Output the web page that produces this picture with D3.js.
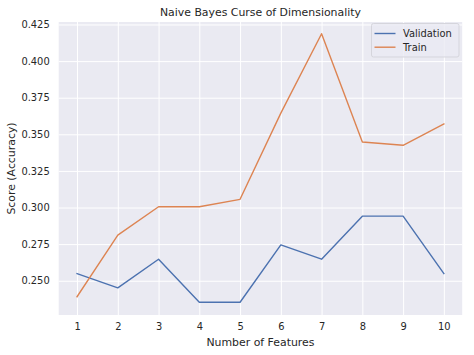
<!DOCTYPE html>
<html>
<head>
<meta charset="utf-8">
<script src="https://cdn.jsdelivr.net/npm/d3@7"></script>
<style>
  html, body { margin: 0; padding: 0; background: #ffffff; }
  svg { display: block; }
  text { font-family: "DejaVu Sans", sans-serif; fill: #262626; }
</style>
</head>
<body>
<div id="chart"></div>
<script>
const features = [1, 2, 3, 4, 5, 6, 7, 8, 9, 10];
const validation = [0.2549, 0.2451, 0.2647, 0.2353, 0.2353, 0.2745, 0.2647, 0.2941, 0.2941, 0.2549];
const train = [0.2391, 0.2812, 0.3005, 0.3005, 0.3056, 0.3645, 0.4187, 0.3447, 0.3425, 0.3570];
const yTicks = [0.250, 0.275, 0.300, 0.325, 0.350, 0.375, 0.400, 0.425];
const seriesNames = ["Validation", "Train"];
const seriesColors = ["#4C72B0", "#DD8452"];

const W = 474, H = 355;
const plot = { left: 58.7, right: 462.2, top: 22, bottom: 315 };

const svg = d3.select("#chart").append("svg")
  .attr("width", W).attr("height", H);

const x = d3.scaleLinear().domain([0.55, 10.45]).range([plot.left, plot.right]);
const y = d3.scaleLinear().domain([0.2266, 0.4267]).range([plot.bottom, plot.top]);

// background
svg.append("rect")
  .attr("x", plot.left).attr("y", plot.top)
  .attr("width", plot.right - plot.left).attr("height", plot.bottom - plot.top)
  .attr("fill", "#EAEAF2");

// grid
const xAxis = d3.axisBottom(x).tickValues(features).tickFormat(d3.format("d"))
  .tickSize(-(plot.bottom - plot.top)).tickPadding(8);
const yAxis = d3.axisLeft(y).tickValues(yTicks).tickFormat(d3.format(".3f"))
  .tickSize(-(plot.right - plot.left)).tickPadding(9);

const gx = svg.append("g").attr("transform", `translate(0,${plot.bottom})`).call(xAxis);
const gy = svg.append("g").attr("transform", `translate(${plot.left},0)`).call(yAxis);
[gx, gy].forEach(g => {
  g.select(".domain").remove();
  g.selectAll(".tick line").attr("stroke", "#ffffff").attr("stroke-width", 1);
  g.selectAll(".tick text").attr("font-size", "9.9px").attr("fill", "#262626")
    .style("font-family", "DejaVu Sans, sans-serif");
});

// lines
const seriesData = [validation, train];
seriesData.forEach((vals, i) => {
  const line = d3.line().x((d, j) => x(features[j])).y(d => y(d));
  svg.append("path")
    .datum(vals)
    .attr("d", line)
    .attr("fill", "none")
    .attr("stroke", seriesColors[i])
    .attr("stroke-width", 1.4)
    .attr("stroke-linejoin", "round")
    .attr("stroke-linecap", "square");
});

// title
svg.append("text")
  .attr("x", (plot.left + plot.right) / 2).attr("y", 16)
  .attr("text-anchor", "middle").attr("font-size", "10.9px")
  .text("Naive Bayes Curse of Dimensionality");

// axis labels
svg.append("text")
  .attr("x", (plot.left + plot.right) / 2).attr("y", 346)
  .attr("text-anchor", "middle").attr("font-size", "10.9px")
  .text("Number of Features");

svg.append("text")
  .attr("transform", `translate(15,${(plot.top + plot.bottom) / 2}) rotate(-90)`)
  .attr("text-anchor", "middle").attr("font-size", "10.9px")
  .text("Score (Accuracy)");

// legend
const lg = svg.append("g");
lg.append("rect")
  .attr("x", 371.5).attr("y", 23.5).attr("width", 87.5).attr("height", 33.5)
  .attr("rx", 2).attr("ry", 2)
  .attr("fill", "#EAEAF2").attr("fill-opacity", 0.8)
  .attr("stroke", "#d5d5dc").attr("stroke-width", 1);
seriesNames.forEach((name, i) => {
  const cy = 33.5 + i * 13.7;
  lg.append("line")
    .attr("x1", 374.5).attr("x2", 395.5).attr("y1", cy).attr("y2", cy)
    .attr("stroke", seriesColors[i]).attr("stroke-width", 1.4);
  lg.append("text")
    .attr("x", 403).attr("y", cy).attr("dy", "0.35em")
    .attr("font-size", "9.9px")
    .text(name);
});
</script>
</body>
</html>
